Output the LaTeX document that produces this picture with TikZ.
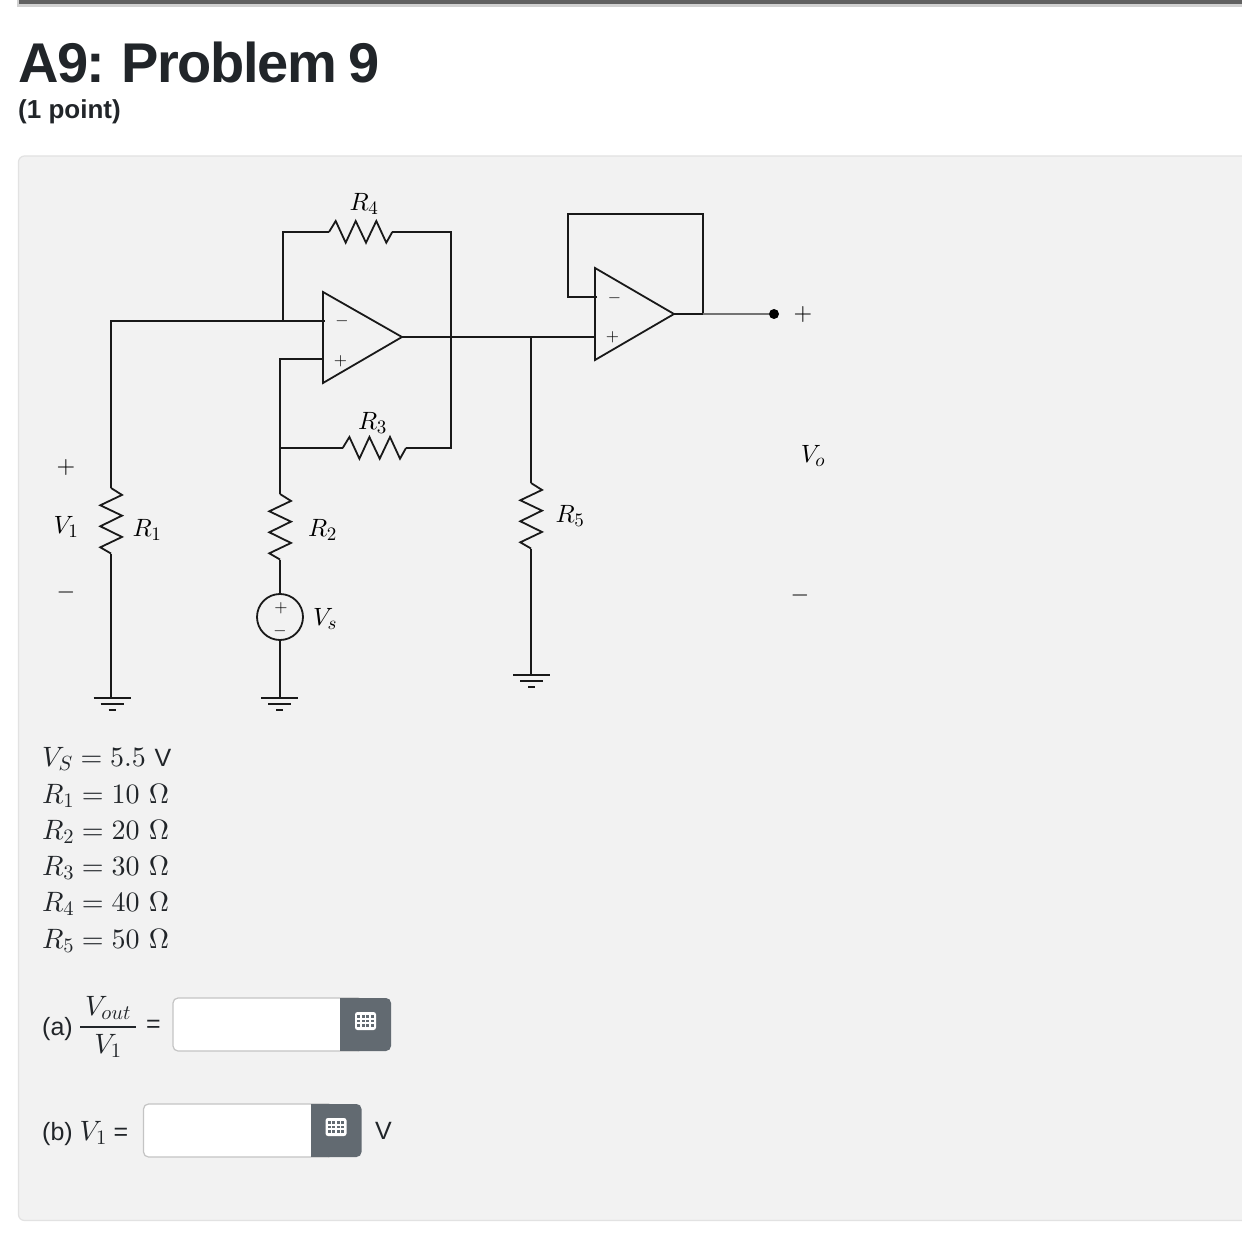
\documentclass[tikz,border=0pt]{standalone}
\usepackage{amsmath,amssymb}
\usepackage[no-math]{fontspec}
\setmainfont{Liberation Sans}
\newfontfamily\headfont[LetterSpace=-2.6, WordSpace=0.8]{Liberation Sans}
\usetikzlibrary{positioning}
% keep the 10pt cuts of the math fonts at every size
\DeclareFontShape{OT1}{cmr}{m}{n}{<->cmr10}{}
\DeclareFontShape{OML}{cmm}{m}{it}{<->cmmi10}{}
\DeclareFontShape{OMS}{cmsy}{m}{n}{<->cmsy10}{}
\DeclareMathSizes{25}{25}{19}{15}
\DeclareMathSizes{28}{28}{20.5}{16}
\definecolor{panelgray}{HTML}{F2F2F2}
\definecolor{panelline}{HTML}{E2E2E2}
\definecolor{inkdark}{HTML}{212529}
\definecolor{btngray}{HTML}{626A71}
\definecolor{boxline}{HTML}{C4C4C4}
\newcommand{\eqline}[1]{\fontsize{28}{30}\selectfont $#1$}

\tikzset{
  resistor/.pic={\draw[wire] (0,0) -- (6.7,-11) -- (16.7,10.7) -- (26.7,-11) -- (37,10.7) -- (47.3,-11) -- (57.3,10.7) -- (63.3,0);},
  ground/.pic={
    \draw[wire] (-18.5,0) -- (18.5,0);
    \draw[wire] (-11.5,6) -- (11.5,6);
    \draw[wire, line width=2.2pt] (-3.5,12) -- (3.5,12);},
  keypad/.pic={
    \fill[white, rounded corners=2.5] (-10.5,-9) rectangle (10.5,9);
    \foreach \kx in {-6.6,-2.2,2.2,6.6} \foreach \ky in {-4.7,0,4.7}
      \fill[btngray] (\kx-1.5,\ky-1.3) rectangle (\kx+1.5,\ky+1.3);},
  answerbox/.pic={
    \filldraw[fill=white, draw=boxline, line width=1.2pt, rounded corners=5] (0,0) rectangle (190,53);
    \fill[btngray] (167,0) rectangle (190,53);
    \fill[btngray, rounded corners=5] (180,0) rectangle (218,53);
    \pic at (192.5,23) {keypad};}
}

\begin{document}
\begin{tikzpicture}[x=1pt, y=-1pt, text depth=0pt]
	\tikzstyle {wire} = [draw=black!90, line width=1.8pt, line join=miter]
	\tikzstyle {thinwire} = [draw=black!55, line width=1.3pt]
	\tikzstyle {sign} = [inner sep=0pt, font=\fontsize{24}{26}\selectfont]
	\tikzstyle {smallsign} = [inner sep=0pt, font=\fontsize{17}{19}\selectfont]
	\tikzstyle {lab} = [inner sep=0pt, font=\fontsize{25}{28}\selectfont]
	\tikzstyle {eq} = [inner sep=0pt, anchor=west, text=inkdark]
	\tikzstyle {plain} = [inner sep=0pt, anchor=west, text=inkdark, font=\fontsize{25}{30}\selectfont]

	\useasboundingbox (0,0) rectangle (1242,1238);
	\fill[white] (0,0) rectangle (1242,1238);

	% top bar and panel
	\fill[black!18] (17,0) rectangle (1242,7);
	\fill[black!62] (19,0) rectangle (1242,4);
	\filldraw[fill=panelgray, draw=panelline, line width=1.2pt, rounded corners=6] (1242,156) -- (18.5,156) -- (18.5,1220.5) -- (1242,1220.5);

	% headings
	\node[inner sep=0pt, anchor=west, text=inkdark] (title) at (18,62) {\headfont\fontsize{56}{60}\selectfont\bfseries A9: Problem 9};
	\node[inner sep=0pt, anchor=west, text=inkdark] (points) at (18,109) {\fontsize{26}{30}\selectfont\bfseries (1 point)};

	% op amps
	\coordinate (A-top) at (323,292);
	\coordinate (A-bot) at (323,383);
	\coordinate (A-out) at (402,337);
	\coordinate (A-neg) at (325,321);
	\coordinate (A-pos) at (323,359);
	\coordinate (B-top) at (595,268);
	\coordinate (B-bot) at (595,360);
	\coordinate (B-out) at (674,314);
	\coordinate (B-neg) at (597,297);
	\coordinate (B-pos) at (595,337);
	\draw[wire] (A-top) -- (A-out) -- (A-bot) -- cycle;
	\draw[wire] (B-top) -- (B-out) -- (B-bot) -- cycle;
	\node[smallsign] (A-minus) at (342,321) {$-$};
	\node[smallsign] (A-plus) at (340.5,360.5) {$+$};
	\node[smallsign] (B-minus) at (614.5,298) {$-$};
	\node[smallsign] (B-plus) at (612.5,337) {$+$};

	% resistors
	\coordinate (R1-top) at (111,488);
	\coordinate (R1-bot) at (111,553.5);
	\coordinate (R2-top) at (280,494);
	\coordinate (R2-bot) at (280,559.5);
	\coordinate (R3-lft) at (342.7,448);
	\coordinate (R3-rgt) at (406,448);
	\coordinate (R4-lft) at (329,232);
	\coordinate (R4-rgt) at (392.3,232);
	\coordinate (R5-top) at (531,483);
	\coordinate (R5-bot) at (531,548.5);
	\pic[rotate=-90, xscale=1.035] at (R1-top) {resistor};
	\pic[rotate=-90, xscale=1.035] at (R2-top) {resistor};
	\pic at (R3-lft) {resistor};
	\pic at (R4-lft) {resistor};
	\pic[rotate=-90, xscale=1.035] at (R5-top) {resistor};

	% source
	\node[draw=black!90, line width=1.8pt, circle, minimum size=46pt, inner sep=0pt] (Vs) at (280,617) {};
	\node[smallsign] (Vs-plus) at (281,608) {$+$};
	\node[smallsign] (Vs-minus) at (280,631) {$-$};

	% grounds
	\coordinate (G1) at (111,698);
	\coordinate (G2) at (280,698);
	\coordinate (G5) at (531,675);
	\pic at (112,698) {ground};
	\pic at (279.5,698) {ground};
	\pic at (531.5,675) {ground};

	% junctions and output
	\coordinate (J-in) at (283,321);
	\coordinate (J-fb) at (451,337);
	\coordinate (J-r5) at (531,337);
	\coordinate (J-o) at (703,314);
	\node[circle, fill=black, minimum size=10pt, inner sep=0pt] (dot) at (774,314) {};

	\draw[wire] (R1-bot) -- (G1);
	\draw[wire] (R1-top) |- (A-neg);
	\draw[wire] (J-in) |- (R4-lft);
	\draw[wire] (R4-rgt) -| (J-fb);
	\draw[wire] (A-out) -- (B-pos);
	\draw[wire] (R3-rgt) -| (J-fb);
	\draw[wire] (A-pos) -| (R2-top);
	\draw[wire] (R2-top |- R3-lft) -- (R3-lft);
	\draw[wire] (R2-bot) -- (Vs.north);
	\draw[wire] (Vs.south) -- (G2);
	\draw[wire] (J-r5) -- (R5-top);
	\draw[wire] (R5-bot) -- (G5);
	\draw[wire] (B-neg) -| (568,214) -| (J-o) |- (B-out);
	\draw[thinwire] (J-o) -- (dot);

	% labels
	\node[lab] (lab-R1) at (147,528) {$R_1$};
	\node[lab] (lab-R2) at (322.5,528) {$R_2$};
	\node[lab] (lab-R3) at (372.5,421) {$R_3$};
	\node[lab] (lab-R4) at (364,202) {$R_4$};
	\node[lab] (lab-R5) at (570,514) {$R_5$};
	\node[lab] (lab-Vs) at (325,617) {$V_s$};
	\node[lab] (lab-V1) at (66,525) {$V_1$};
	\node[lab] (lab-Vo) at (813,454) {$V_o$};
	\node[sign] (V1-plus) at (66,466) {$+$};
	\node[sign] (V1-minus) at (66,591) {$-$};
	\node[sign] (Vo-plus) at (803,314) {$+$};
	\node[sign] (Vo-minus) at (800,594) {$-$};

	% values
	\node[eq] (eq-Vs) at (42,757) {\eqline{V_S = 5.5\,}\fontsize{25}{30}\selectfont\,V};
	\node[eq] (eq-R1) at (42,793.5) {\eqline{R_1 = 10\,\,\Omega}};
	\node[eq] (eq-R2) at (42,830) {\eqline{R_2 = 20\,\,\Omega}};
	\node[eq] (eq-R3) at (42,866) {\eqline{R_3 = 30\,\,\Omega}};
	\node[eq] (eq-R4) at (42,902) {\eqline{R_4 = 40\,\,\Omega}};
	\node[eq] (eq-R5) at (42,938.5) {\eqline{R_5 = 50\,\,\Omega}};

	% part (a)
	\node[plain] (a-tag) at (42,1026) {(a)};
	\node[inner sep=0pt, text=inkdark] (a-frac) at (108,1015) {\eqline{\dfrac{\,V_{out}\,}{V_1}}};
	\node[plain] (a-eq) at (146,1026) {=};
	\pic at (173,998) {answerbox};

	% part (b)
	\node[plain] (b-tag) at (42,1131) {(b) \eqline{V_1}\fontsize{25}{30}\selectfont\ =};
	\pic at (143.5,1104) {answerbox};
	\node[plain] (b-unit) at (375,1131) {V};
\end{tikzpicture}
\end{document}
